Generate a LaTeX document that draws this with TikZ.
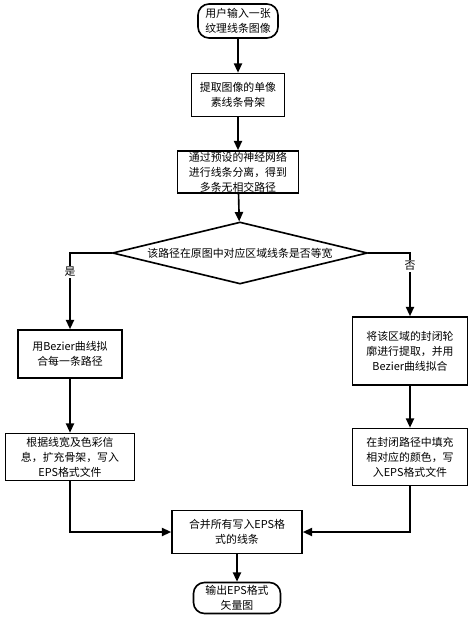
\documentclass[tikz,border=0pt]{standalone}
\usepackage{fontspec}
\setmainfont{Noto Sans CJK SC}
\usetikzlibrary{shapes.geometric, arrows.meta}

\begin{document}
\begin{tikzpicture}[x=0.03cm,y=-0.03cm,
  box/.style={draw,line width=1.4pt,align=center,inner sep=0pt,font=\fontsize{9.3}{12.8}\selectfont},
  term/.style={box,rounded corners=0.33cm},
  flow/.style={line width=1.4pt,-{Triangle[length=8pt,width=7pt]}},
  tag/.style={fill=white,inner sep=1pt,font=\fontsize{9.3}{12.8}\selectfont}]
\useasboundingbox (0,0) rectangle (474,619);

\node[term,minimum width=2.4cm,minimum height=1.02cm] (input) at (238,21) {用户输入一张\\纹理线条图像};
\node[box,minimum width=2.79cm,minimum height=1.29cm] (skeleton) at (238,95) {提取图像的单像\\素线条骨架};
\node[box,minimum width=3.63cm,minimum height=1.26cm] (split) at (238,172) {通过预设的神经网络\\进行线条分离，得到\\多条无相交路径};
\node[box,diamond,aspect=4.1,minimum width=7.65cm,minimum height=1.86cm] (judge) at (240,253) {该路径在原图中对应区域线条是否等宽};

\node[box,minimum width=3.12cm,minimum height=1.44cm] (fitL) at (70,354) {用Bezier曲线拟\\合每一条路径};
\node[box,minimum width=3.87cm,minimum height=1.41cm] (writeL) at (70,457) {根据线宽及色彩信\\息，扩充骨架，写入\\EPS格式文件};
\node[box,minimum width=3.45cm,minimum height=2.04cm] (fitR) at (410,351) {将该区域的封闭轮\\廓进行提取，并用\\Bezier曲线拟合};
\node[box,minimum width=3.45cm,minimum height=1.71cm] (writeR) at (410,457) {在封闭路径中填充\\相对应的颜色，写\\入EPS格式文件};

\node[box,minimum width=3.9cm,minimum height=1.29cm] (merge) at (237,532) {合并所有写入EPS格\\式的线条};
\node[term,minimum width=2.61cm,minimum height=0.93cm] (output) at (237,598) {输出EPS格式\\矢量图};

\draw[flow] (input) -- (skeleton);
\draw[flow] (skeleton) -- (split);
\draw[flow] (split) -- (judge);
\draw[flow] (judge.west) -| (fitL);
\draw[flow] (judge.east) -| (fitR);
\draw[flow] (fitL) -- (writeL);
\draw[flow] (fitR) -- (writeR);
\draw[flow] (writeL) |- (merge);
\draw[flow] (writeR) |- (merge);
\draw[flow] (merge) -- (output);

\node[tag] (yes) at (70,272) {是};
\node[tag] (no) at (410,266) {否};
\end{tikzpicture}
\end{document}
